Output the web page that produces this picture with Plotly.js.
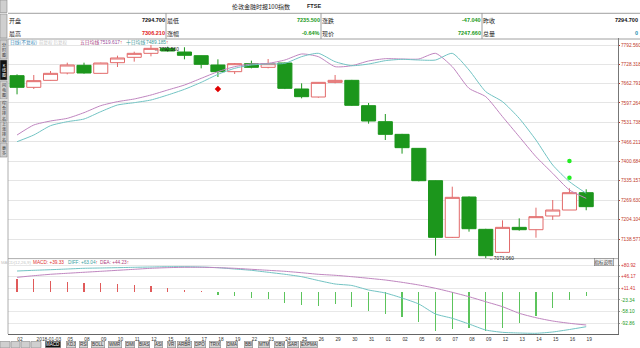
<!DOCTYPE html>
<html><head><meta charset="utf-8">
<script src="https://cdn.plot.ly/plotly-3.0.1.min.js"></script>
<style>html,body{margin:0;padding:0;background:#fff;overflow:hidden}#chart{width:640px;height:348px}</style>
</head><body><div id="chart"></div>
<script>
// ---------------- DATA ----------------
const dates = ['02','2018-01-03','04','05','08','09','10','11','12','15','16','17','18','19','22','23','24','25','26','29','30','31','01','02','05','06','07','08','09','12','13','14','15','16','19'];
const hiddenTickLabels = ['04'];
const opens  = [7689.2,7649.9,7673.5,7698.2,7724.1,7697.1,7733.0,7751.0,7764.5,7781.3,7769.0,7756.6,7725.2,7702.7,7729.7,7717.3,7731.9,7644.3,7617.3,7666.7,7673.5,7588.1,7534.1,7491.4,7444.2,7335.2,7144.2,7280.2,7171.2,7093.6,7177.9,7170.0,7216.2,7236.3,7294.7];
const highs  = [7693.7,7691.5,7704.9,7733.0,7733.0,7733.0,7756.6,7770.1,7792.56,7787.0,7785.0,7757.0,7744.3,7731.9,7739.8,7745.4,7733.0,7663.4,7667.0,7691.5,7675.0,7597.1,7560.0,7493.0,7445.0,7336.0,7315.0,7282.0,7173.0,7201.5,7208.3,7244.2,7270.1,7309.4,7306.21];
const lows   = [7626.3,7644.3,7672.4,7693.7,7696.0,7696.0,7718.4,7736.4,7754.4,7770.0,7744.3,7713.9,7684.7,7694.8,7713.9,7713.9,7644.0,7612.8,7615.0,7663.4,7587.0,7527.4,7472.3,7426.3,7333.0,7082.4,7142.0,7163.3,7073.06,7092.0,7166.7,7143.0,7202.7,7236.3,7235.5];
const closes = [7649.9,7672.4,7697.1,7725.2,7698.2,7731.9,7748.8,7764.5,7781.3,7772.4,7757.8,7727.4,7702.7,7729.7,7717.3,7729.7,7646.5,7618.4,7666.7,7673.5,7589.2,7536.4,7491.4,7446.5,7335.2,7144.2,7279.1,7173.4,7082.4,7177.9,7170.0,7213.9,7236.3,7294.7,7247.66];
const ma5  = [7489.2,7522.9,7536.4,7545.4,7564.5,7588.1,7601.6,7610.6,7624.0,7640.9,7657.7,7680.2,7702.7,7719.5,7728.5,7730.8,7742.0,7762.3,7753.3,7719.6,7722.9,7738.7,7746.5,7745.4,7745.4,7764.5,7719.5,7646.5,7618.4,7551.0,7483.6,7416.2,7359.9,7303.8,7275.7];
const ma10 = [7466.7,7489.2,7520.6,7534.1,7543.1,7567.8,7590.3,7598.2,7607.2,7624.0,7643.1,7666.7,7693.7,7713.9,7725.2,7728.5,7730.8,7753.3,7764.5,7736.4,7722.9,7728.5,7739.8,7744.3,7742.0,7742.0,7764.5,7708.3,7635.3,7601.6,7545.4,7472.3,7388.1,7332.0,7292.6];
const sellSignalIdx = [12], sellSignalPrice = [7644.3];
const buySignalIdx = [33, 33], buySignalPrice = [7401.5, 7345.4];
const diff = [63.04,65.2,67.0,69.1,71.2,72.1,73.1,74.2,75.1,76.0,76.0,75.1,73.0,69.1,65.2,59.3,53.3,46.1,34.7,24.3,19.8,6.3,-2.6,-17.6,-35.5,-65.4,-78.3,-95.3,-113.3,-120.2,-122.2,-123.1,-119.2,-111.8,-103.4];
const dea  = [44.23,49.1,53.3,56.3,59.3,62.2,65.2,68.2,71.2,73.1,74.2,74.2,73.1,71.2,68.2,65.2,62.2,58.0,53.3,50.3,46.1,41.3,36.2,29.3,21.3,11.4,-0.6,-13.7,-28.7,-43.6,-63.3,-76.5,-86.4,-93.2,-98.3];
const macd = [39.33,38.5,33,30,27,27,23,20,17,13,7,2,-8.6,-11.6,-18.5,-21.5,-31.6,-38.5,-40,-36.4,-45.4,-56.4,-66.3,-73.5,-90.2,-116.2,-110.2,-108.1,-116.2,-106.3,-93.2,-71.4,-48.4,-23.6,-10.8];
const priceTicks = [7138.577,7204.104,7269.630,7335.157,7400.684,7466.211,7531.738,7597.264,7662.791,7728.318,7792.560];
const priceTickText = ['7138.577','7204.104','7269.630','7335.157','7400.684','7466.211','7531.738','7597.264','7662.791','7728.318','7792.560'];
const macdTicks = [80.92,46.17,11.41,-23.34,-58.10,-92.86];
const macdTickText = ['+80.92','+46.17','+11.41','-23.34','-58.10','-92.86'];
const headerTitle = ['伦敦金融时报100指数','FTSE'];
const headerLabels = [['开盘','最低','涨跌','昨收'],['最高','涨幅','现价','总量']];
const headerValues = [['7294.700','7235.500','-47.040','7294.700'],['7306.210','-0.64%','7247.660','0']];
const headerColors = [['#111','#1a9a1a','#1a9a1a','#111'],['#e02020','#1a9a1a','#1a9a1a','#2a8fb0']];
const sideTabs = ['分时图','K线图','闪电图','综合排名','上涨排名','更多'];
const indicatorTabs = ['MACD','KDJ','RSI','BOLL','WMR','DMI','BIAS','ASI','VR','ARBR','DPO','TRIX','DMA','BBI','MTM','OBV','SAR','EXPMA'];
const maLegend = ['日线(不复权)','五日均线','7519.617','十日均线','7489.185'];
const macdLegend = ['MACD(12,26,9)','MACD: +39.33','DIFF: +63.04','DEA: +44.23'];

// ---------------- LAYOUT HELPERS ----------------
const W = 640, H = 348;
const px = x => x / W, py = y => 1 - y / H;
const idx = dates.map((d, i) => i);
const RED = '#e26a6a', GREEN = '#1c961c', PURPLE = '#bf85bf', TEAL = '#72c3c3';
const F = 'Liberation Sans, Arial, Noto Sans CJK SC, sans-serif';
const FC = 'Noto Sans CJK SC, Liberation Sans, sans-serif';

const traces = [
  {type:'candlestick', x: idx, open: opens, high: highs, low: lows, close: closes, xaxis:'x', yaxis:'y',
   increasing:{line:{color:RED,width:1}, fillcolor:'#ffffff'},
   decreasing:{line:{color:GREEN,width:1}, fillcolor:GREEN}, whiskerwidth:0, hoverinfo:'skip', showlegend:false},
  {type:'scatter', mode:'lines', x: idx, y: ma5, line:{color:PURPLE,width:1,shape:'spline',smoothing:0.6}, xaxis:'x', yaxis:'y', hoverinfo:'skip', showlegend:false},
  {type:'scatter', mode:'lines', x: idx, y: ma10, line:{color:TEAL,width:1,shape:'spline',smoothing:0.6}, xaxis:'x', yaxis:'y', hoverinfo:'skip', showlegend:false},
  {type:'scatter', mode:'markers', x: sellSignalIdx, y: sellSignalPrice, marker:{symbol:'diamond',size:5,color:'#e00000'}, xaxis:'x', yaxis:'y', hoverinfo:'skip', showlegend:false},
  {type:'scatter', mode:'markers', x: buySignalIdx, y: buySignalPrice, marker:{symbol:'circle',size:4.5,color:'#22ee22'}, xaxis:'x', yaxis:'y', hoverinfo:'skip', showlegend:false},
  {type:'bar', x: idx, y: macd, width: 0.07, marker:{color: macd.map(v => v >= 0 ? '#e05a5a' : '#5cc45c'), line:{width:0}}, xaxis:'x2', yaxis:'y2', hoverinfo:'skip', showlegend:false},
  {type:'scatter', mode:'lines', x: idx, y: diff, line:{color:TEAL,width:1,shape:'spline',smoothing:0.6}, xaxis:'x2', yaxis:'y2', hoverinfo:'skip', showlegend:false},
  {type:'scatter', mode:'lines', x: idx, y: dea, line:{color:PURPLE,width:1,shape:'spline',smoothing:0.6}, xaxis:'x2', yaxis:'y2', hoverinfo:'skip', showlegend:false}
];

const shownIdx = idx.filter(i => !hiddenTickLabels.includes(dates[i]));
const xr = [-0.54, 35.9];

const shapes = [];
const ann = [];
function line(x0,y0,x1,y1,c,w){ shapes.push({type:'line',xref:'paper',yref:'paper',x0:px(x0),y0:py(y0),x1:px(x1),y1:py(y1),line:{color:c,width:w||1}}); }
function rect(x0,y0,x1,y1,fill,lc){ shapes.push({type:'rect',xref:'paper',yref:'paper',x0:px(x0),y0:py(y0),x1:px(x1),y1:py(y1),fillcolor:fill,line:{color:lc||fill,width:lc?0.6:0},layer:'below'}); }
function text(t,x,y,opt){ opt=opt||{}; ann.push({text:t,xref:'paper',yref:'paper',x:px(x),y:py(y),xanchor:opt.xa||'left',yanchor:'middle',showarrow:false,
  font:{size:opt.size||6,color:opt.color||'#222',family:opt.family||F}, bgcolor:opt.bg, bordercolor:opt.bc, borderwidth:opt.bc?0.6:0, borderpad:opt.pad||0}); }

// header
line(8,13.3,640,13.3,'#888',0.8);
line(0,39,640,39,'#888',0.8);
[166,321,482].forEach(x => line(x,13.3,x,39,'#888',0.8));
rect(0,0,7,12.5,'#cfcfcf','#888');
rect(0,14,7,38,'#cfcfcf','#888');
text(headerTitle[0],232,6.5,{family:FC,size:6,color:'#222'});
text('<b>'+headerTitle[1]+'</b>',307,6.5,{size:5.5,color:'#222'});
const colL = [9,167,322,483], colR = [165,319.5,480.5,638];
[20,33].forEach((yy,r) => {
  headerLabels[r].forEach((lab,c) => {
    text(lab,colL[c],yy,{family:FC,size:6,color:'#222'});
    text('<b>'+headerValues[r][c]+'</b>',colR[c],yy,{xa:'right',size:5.5,color:headerColors[r][c]});
  });
});

// side tabs
const tabY = [[40,59],[60,80],[81,99],[101,121],[122,142],[143,157]];
sideTabs.forEach((t,i) => {
  const sel = i===1;
  rect(0,tabY[i][0],7,tabY[i][1], sel?'#111':'#cfcfcf','#888');
  text(t.split('').join('<br>'),3.6,(tabY[i][0]+tabY[i][1])/2,{xa:'center',family:FC,size:4,color:sel?'#fff':'#333'});
});

// panel frames
line(8,39,8,334,'#999',0.8);
line(8,258.6,618,258.6,'#999',0.8);
line(8,265.5,618,265.5,'#e6e6e6',0.6);

// price legend
text(maLegend[0],9.5,42,{family:FC,size:4.8,color:'#3a8ab8'});
text('前复权 后复权',39,42,{family:FC,size:4.5,color:'#c8c8c8'});
text(maLegend[1],80,42,{family:FC,size:4.8,color:'#a8407f'});
text(maLegend[2]+'<span style="color:#e00000">↑</span>',100,42,{size:4.8,color:'#9a4c9a'});
text(maLegend[3],126,42,{family:FC,size:4.8,color:'#3a9a9a'});
text(maLegend[4]+'<span style="color:#e00000">↑</span>',146,42,{size:4.8,color:'#3a9a9a'});

// macd legend
text(macdLegend[0],1,262,{size:4.3,color:'#c4c4c4'});
text(macdLegend[1],33,262,{size:4.7,color:'#e03030'});
text(macdLegend[2]+'<span style="color:#e00000">↑</span>',68,262,{size:4.7,color:'#3aa0a0'});
text(macdLegend[3]+'<span style="color:#e00000">↑</span>',100,262,{size:4.7,color:'#b04080'});
text('指标说明',604,261.5,{xa:'center',family:FC,size:4.5,color:'#333',bg:'#f2f2f2',bc:'#777'});

// extreme labels (from data)
const iMax = highs.indexOf(Math.max(...highs)), iMin = lows.indexOf(Math.min(...lows));
ann.push({text:'←'+Math.max(...highs).toFixed(3),x:iMax+0.05,y:Math.max(...highs),xref:'x',yref:'y',xanchor:'left',yanchor:'top',showarrow:false,font:{size:4.8,color:'#222',family:F}});
ann.push({text:'←'+Math.min(...lows).toFixed(3),x:iMin+0.05,y:Math.min(...lows),xref:'x',yref:'y',xanchor:'left',yanchor:'middle',showarrow:false,font:{size:4.8,color:'#222',family:F}});

// bottom indicator tabs
rect(0,341,640,348,'#ffffff');
[[0,10],[11,20],[21,30],[31,41]].forEach(b => rect(b[0],341.5,b[1],347.8,'#cfcfcf','#888'));
const tabX = [53,70.5,83.5,98,115,129.5,144,158.5,171,184,199.5,215,232,248,264,279,293,309];
indicatorTabs.forEach((t,i) => {
  const sel = i===0;
  text(t,tabX[i],344.7,{xa:'center',size:4.5,color:sel?'#fff':'#333',bg:sel?'#111':'#d6d6d6',bc:'#888',pad:0.3});
});

const layout = {
  width: W, height: H, margin:{l:0,r:0,t:0,b:0}, paper_bgcolor:'#fff', plot_bgcolor:'#fff',
  showlegend:false, boxgap:0.16, boxgroupgap:0, bargap:0,
  font:{family:F,size:6,color:'#333'},
  xaxis:{domain:[px(8),px(618)], range:xr, anchor:'y', showticklabels:false, showgrid:false, zeroline:false, rangeslider:{visible:false}, showline:false, fixedrange:true},
  yaxis:{domain:[py(258.5),py(38)], range:[7072.9,7816.2], side:'right', tickvals:priceTicks, ticktext:priceTickText,
         tickfont:{size:4.8,color:'#c0392b',family:F}, ticks:'outside', ticklen:1, tickcolor:'#c0392b', ticklabelstandoff:0,
         gridcolor:'#dedede', gridwidth:0.8, zeroline:false, showline:true, linecolor:'#777', linewidth:1, fixedrange:true},
  xaxis2:{domain:[px(8),px(618)], range:xr, anchor:'y2', tickmode:'array',
          tickvals: shownIdx.map(i => i + (dates[i].length > 2 ? 0.72 : 0)), ticktext: shownIdx.map(i => dates[i]),
          tickfont:{size:4.8,color:'#333',family:F}, ticks:'', ticklabelshift:3, ticklabelstandoff:0,
          showgrid:false, zeroline:false, showline:true, linecolor:'#666', linewidth:1, fixedrange:true},
  yaxis2:{domain:[py(334),py(259)], range:[-125.2,99.0], side:'right', tickvals:macdTicks,
          ticktext: macdTickText.map((t,i) => '<span style="color:'+(macdTicks[i]>=0?'#d03030':'#1a9a1a')+'">'+t+'</span>'),
          tickfont:{size:4.8,family:F}, ticks:'outside', ticklen:1, tickcolor:'#999', ticklabelstandoff:0,
          gridcolor:'#e2e2e2', gridwidth:0.8, zeroline:false, showline:true, linecolor:'#777', linewidth:1, fixedrange:true},
  shapes: shapes, annotations: ann
};

Plotly.newPlot('chart', traces, layout, {staticPlot:true, displayModeBar:false});
</script></body></html>
